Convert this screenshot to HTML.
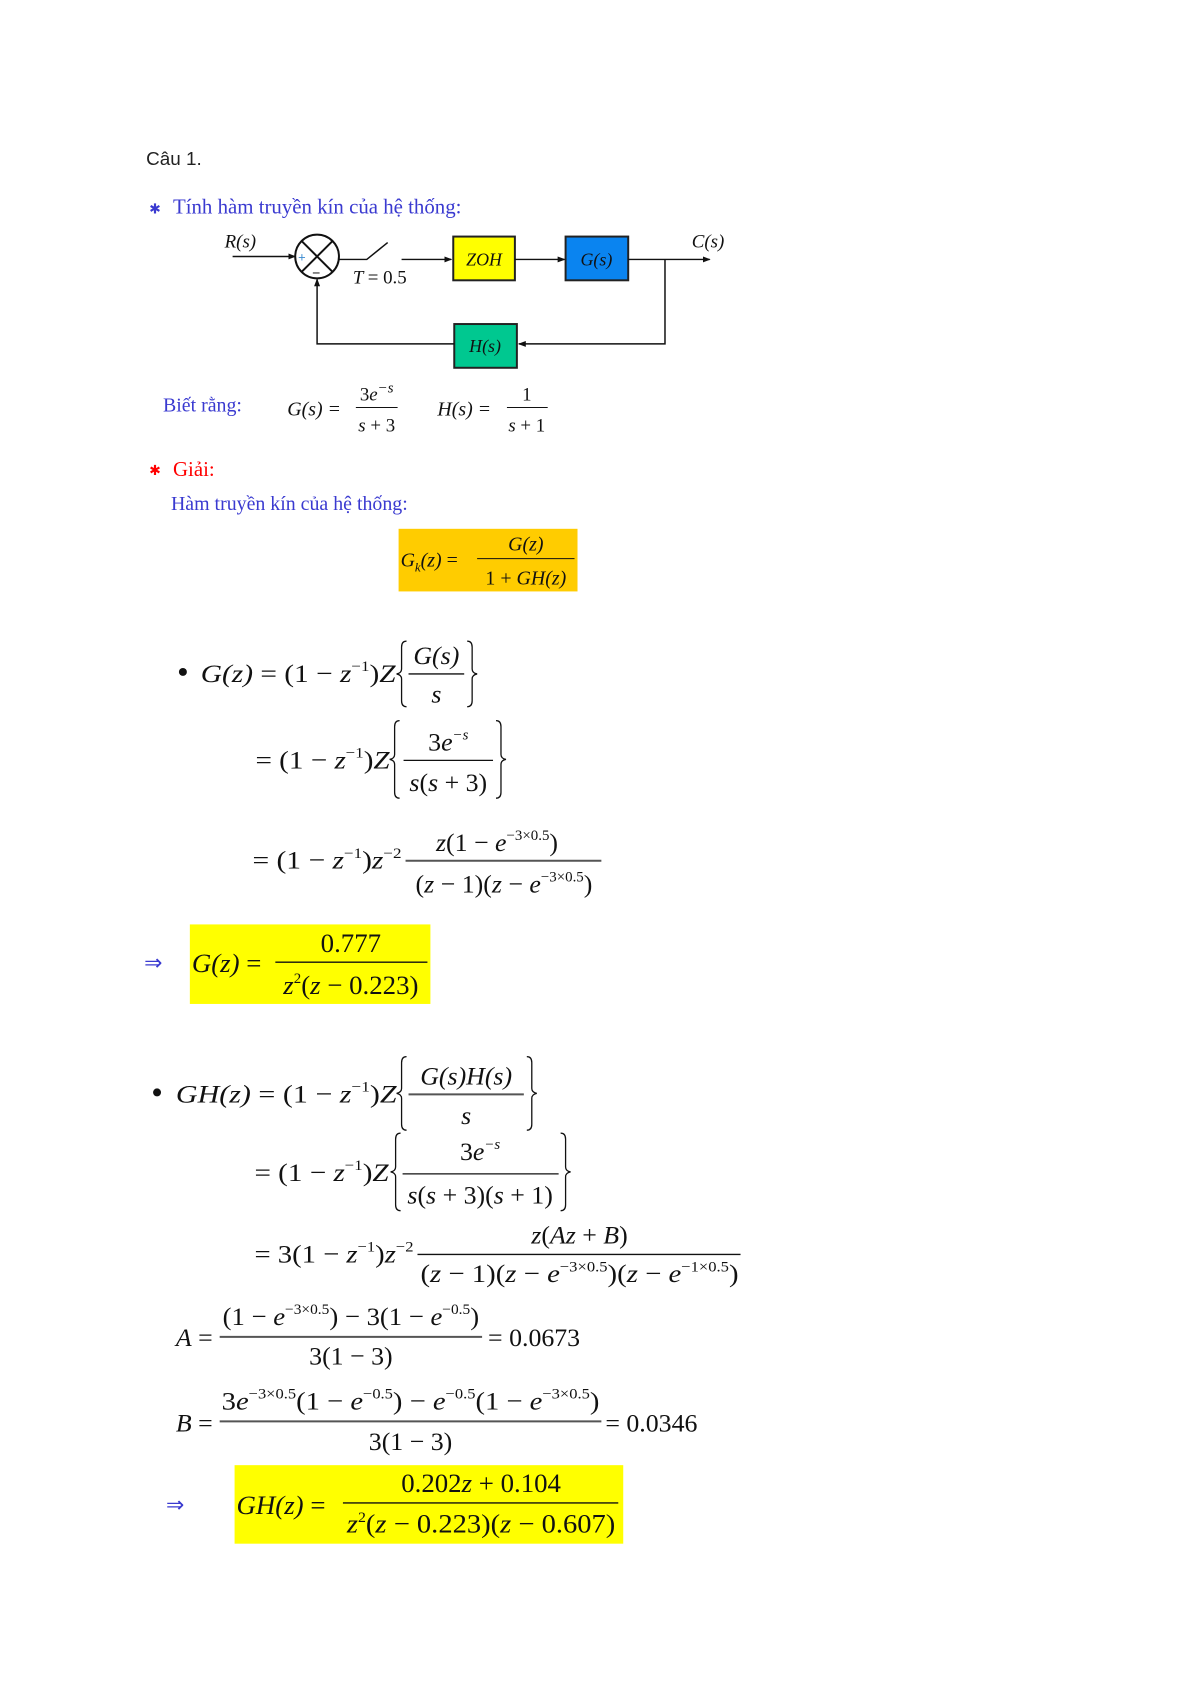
<!DOCTYPE html>
<html><head><meta charset="utf-8"><style>
html,body{margin:0;padding:0;background:#fff;}
svg{display:block;}
.m{font-family:"Liberation Serif",serif;font-style:italic;fill:#111;}
.r{font-family:"Liberation Serif",serif;fill:#111;}
.b{font-family:"Liberation Serif","Noto Serif CJK SC",serif;fill:#3a3ad0;}
.sup{font-size:15px;}
</style></head><body>
<svg width="1200" height="1698" viewBox="0 0 1200 1698" xmlns="http://www.w3.org/2000/svg">
<defs>
<marker id="ar" markerWidth="8" markerHeight="8" refX="7" refY="4" orient="auto" markerUnits="userSpaceOnUse"><path d="M0,1 L8,4 L0,7 z" fill="#111"/></marker>
</defs>
<g transform="scale(0.994)">
<text x="147" y="166" font-family="Liberation Sans,sans-serif" font-size="19" fill="#222">Câu 1.</text>
<text x="150" y="215" font-size="14" fill="#3a3ad0" font-family="DejaVu Sans,sans-serif">✱</text>
<text x="174" y="215" class="b" font-size="21">Tính hàm truyền kín của hệ thống:</text>

<text x="226" y="249" class="m" font-size="19">R(s)</text>
<line x1="234" y1="258" x2="297" y2="258" stroke="#111" stroke-width="1.5" marker-end="url(#ar)"/>
<circle cx="319" cy="258" r="22" fill="none" stroke="#111" stroke-width="2"/>
<line x1="303" y1="242" x2="335" y2="274" stroke="#111" stroke-width="2"/>
<line x1="335" y1="242" x2="303" y2="274" stroke="#111" stroke-width="2"/>
<text x="300" y="263" font-size="13" fill="#3a8ad0" font-family="Liberation Sans,sans-serif">+</text>
<text x="314" y="279" font-size="14" fill="#111" font-family="Liberation Sans,sans-serif">−</text>
<polyline points="341,261 369,261 390,244" fill="none" stroke="#111" stroke-width="1.5"/>
<line x1="404" y1="261" x2="454" y2="261" stroke="#111" stroke-width="1.5" marker-end="url(#ar)"/>
<text x="355" y="285" class="m" font-size="19">T <tspan font-style="normal">= 0.5</tspan></text>
<rect x="456" y="238" width="62" height="44" fill="#ffff00" stroke="#222" stroke-width="2"/>
<text x="487" y="267" class="m" font-size="18" text-anchor="middle">ZOH</text>
<line x1="518" y1="261" x2="568" y2="261" stroke="#111" stroke-width="1.5" marker-end="url(#ar)"/>
<rect x="569" y="238" width="63" height="44" fill="#0a84f0" stroke="#222" stroke-width="2"/>
<text x="600" y="267" class="m" font-size="18" text-anchor="middle">G(s)</text>
<line x1="632" y1="261" x2="714" y2="261" stroke="#111" stroke-width="1.5" marker-end="url(#ar)"/>
<text x="696" y="249" class="m" font-size="19">C(s)</text>
<polyline points="669,261 669,346 522,346" fill="none" stroke="#111" stroke-width="1.5" marker-end="url(#ar)"/>
<rect x="457" y="326" width="63" height="44" fill="#00c890" stroke="#222" stroke-width="2"/>
<text x="488" y="354" class="m" font-size="18" text-anchor="middle">H(s)</text>
<polyline points="457,346 319,346 319,281" fill="none" stroke="#111" stroke-width="1.5" marker-end="url(#ar)"/>

<text x="164" y="414" class="b" font-size="20">Biết rằng:</text>
<text x="289" y="418" class="m" font-size="20">G(s) =</text>
<line x1="358" y1="410" x2="400" y2="410" stroke="#111" stroke-width="1"/>
<text x="379" y="403" class="r" font-size="19" text-anchor="middle">3<tspan font-style="italic">e</tspan><tspan class="sup" dy="-8" font-style="italic">−s</tspan></text>
<text x="379" y="434" class="m" font-size="19" text-anchor="middle">s <tspan font-style="normal">+ 3</tspan></text>
<text x="440" y="418" class="m" font-size="20">H(s) =</text>
<line x1="510" y1="410" x2="551" y2="410" stroke="#111" stroke-width="1"/>
<text x="530" y="403" class="r" font-size="19" text-anchor="middle">1</text>
<text x="530" y="434" class="m" font-size="19" text-anchor="middle">s <tspan font-style="normal">+ 1</tspan></text>

<text x="150" y="478" font-size="14" fill="#ff0000" font-family="DejaVu Sans,sans-serif">✱</text>
<text x="174" y="479" font-family="Liberation Serif,serif" font-size="21" fill="#ff0000">Giải:</text>
<text x="172" y="513" class="b" font-size="20">Hàm truyền kín của hệ thống:</text>

<rect x="401" y="532" width="180" height="63" fill="#ffcc00"/>
<text x="403" y="570" class="m" font-size="20">G<tspan font-size="13" dy="5">k</tspan><tspan dy="-5">(z) </tspan><tspan font-style="normal">=</tspan></text>
<line x1="480" y1="562" x2="578" y2="562" stroke="#111" stroke-width="1"/>
<text x="529" y="554" class="m" font-size="20" text-anchor="middle">G(z)</text>
<text x="529" y="588" class="m" font-size="20" text-anchor="middle"><tspan font-style="normal">1 + </tspan>GH(z)</text>

<circle cx="184" cy="676" r="4" fill="#111"/>
<text x="202" y="686" class="m" font-size="26" textLength="196" lengthAdjust="spacingAndGlyphs">G(z)<tspan font-style="normal"> = (1 − </tspan>z<tspan class="sup" dy="-11" font-style="normal">−1</tspan><tspan dy="11" font-style="normal">)</tspan>Z</text>
<path d="M409,645 q-5,0 -5,6 v22 q0,4 -5,5 q5,1 5,5 v22 q0,6 5,6" fill="none" stroke="#111" stroke-width="1.3"/>
<line x1="411" y1="678" x2="467" y2="678" stroke="#111" stroke-width="1.3"/>
<text x="439" y="668" class="m" font-size="26" text-anchor="middle">G(s)</text>
<text x="439" y="707" class="m" font-size="26" text-anchor="middle">s</text>
<path d="M470,645 q5,0 5,6 v22 q0,4 5,5 q-5,1 -5,5 v22 q0,6 -5,6" fill="none" stroke="#111" stroke-width="1.3"/>

<text x="257" y="773" class="r" font-size="26" textLength="135" lengthAdjust="spacingAndGlyphs">= (1 − <tspan font-style="italic">z</tspan><tspan class="sup" dy="-11">−1</tspan><tspan dy="11">)</tspan><tspan font-style="italic">Z</tspan></text>
<path d="M402,725 q-5,0 -5,6 v28 q0,4 -5,5 q5,1 5,5 v28 q0,6 5,6" fill="none" stroke="#111" stroke-width="1.3"/>
<line x1="406" y1="765" x2="496" y2="765" stroke="#111" stroke-width="1.3"/>
<text x="451" y="755" class="r" font-size="26" text-anchor="middle">3<tspan font-style="italic">e</tspan><tspan class="sup" dy="-11" font-style="italic">−s</tspan></text>
<text x="451" y="796" class="m" font-size="26" text-anchor="middle">s<tspan font-style="normal">(</tspan>s<tspan font-style="normal"> + 3)</tspan></text>
<path d="M499,725 q5,0 5,6 v28 q0,4 5,5 q-5,1 -5,5 v28 q0,6 -5,6" fill="none" stroke="#111" stroke-width="1.3"/>

<text x="254" y="874" class="r" font-size="26" textLength="150" lengthAdjust="spacingAndGlyphs">= (1 − <tspan font-style="italic">z</tspan><tspan class="sup" dy="-11">−1</tspan><tspan dy="11">)</tspan><tspan font-style="italic">z</tspan><tspan class="sup" dy="-11">−2</tspan></text>
<line x1="408" y1="866" x2="605" y2="866" stroke="#555" stroke-width="2"/>
<text x="500" y="856" class="r" font-size="26" text-anchor="middle"><tspan font-style="italic">z</tspan>(1 − <tspan font-style="italic">e</tspan><tspan class="sup" dy="-11">−3×0.5</tspan><tspan dy="11">)</tspan></text>
<text x="507" y="898" class="r" font-size="26" text-anchor="middle">(<tspan font-style="italic">z</tspan> − 1)(<tspan font-style="italic">z</tspan> − <tspan font-style="italic">e</tspan><tspan class="sup" dy="-11">−3×0.5</tspan><tspan dy="11">)</tspan></text>

<text x="145" y="976" font-family="DejaVu Sans,sans-serif" font-size="22" fill="#3a3ad0">⇒</text>
<rect x="191" y="930" width="242" height="80" fill="#ffff00"/>
<text x="193" y="978" class="m" font-size="27">G(z)<tspan font-style="normal"> =</tspan></text>
<line x1="277" y1="968" x2="430" y2="968" stroke="#111" stroke-width="1.3"/>
<text x="353" y="958" class="r" font-size="27" text-anchor="middle">0.777</text>
<text x="353" y="1000" class="r" font-size="27" text-anchor="middle"><tspan font-style="italic">z</tspan><tspan class="sup" dy="-11">2</tspan><tspan dy="11">(</tspan><tspan font-style="italic">z</tspan> − 0.223)</text>

<circle cx="158" cy="1099" r="4" fill="#111"/>
<text x="177" y="1109" class="m" font-size="26" textLength="222" lengthAdjust="spacingAndGlyphs">GH(z)<tspan font-style="normal"> = (1 − </tspan>z<tspan class="sup" dy="-11" font-style="normal">−1</tspan><tspan dy="11" font-style="normal">)</tspan>Z</text>
<path d="M409,1063 q-5,0 -5,6 v26 q0,4 -5,5 q5,1 5,5 v26 q0,6 5,6" fill="none" stroke="#111" stroke-width="1.3"/>
<line x1="411" y1="1101" x2="527" y2="1101" stroke="#555" stroke-width="2"/>
<text x="469" y="1091" class="m" font-size="26" text-anchor="middle">G(s)H(s)</text>
<text x="469" y="1131" class="m" font-size="26" text-anchor="middle">s</text>
<path d="M530,1063 q5,0 5,6 v26 q0,4 5,5 q-5,1 -5,5 v26 q0,6 -5,6" fill="none" stroke="#111" stroke-width="1.3"/>

<text x="256" y="1188" class="r" font-size="26" textLength="135" lengthAdjust="spacingAndGlyphs">= (1 − <tspan font-style="italic">z</tspan><tspan class="sup" dy="-11">−1</tspan><tspan dy="11">)</tspan><tspan font-style="italic">Z</tspan></text>
<path d="M403,1140 q-5,0 -5,6 v28 q0,4 -5,5 q5,1 5,5 v28 q0,6 5,6" fill="none" stroke="#111" stroke-width="1.3"/>
<line x1="405" y1="1181" x2="562" y2="1181" stroke="#111" stroke-width="1.3"/>
<text x="483" y="1167" class="r" font-size="26" text-anchor="middle">3<tspan font-style="italic">e</tspan><tspan class="sup" dy="-11" font-style="italic">−s</tspan></text>
<text x="483" y="1211" class="m" font-size="26" text-anchor="middle">s<tspan font-style="normal">(</tspan>s<tspan font-style="normal"> + 3)(</tspan>s<tspan font-style="normal"> + 1)</tspan></text>
<path d="M564,1140 q5,0 5,6 v28 q0,4 5,5 q-5,1 -5,5 v28 q0,6 -5,6" fill="none" stroke="#111" stroke-width="1.3"/>

<text x="256" y="1270" class="r" font-size="26" textLength="160" lengthAdjust="spacingAndGlyphs">= 3(1 − <tspan font-style="italic">z</tspan><tspan class="sup" dy="-11">−1</tspan><tspan dy="11">)</tspan><tspan font-style="italic">z</tspan><tspan class="sup" dy="-11">−2</tspan></text>
<line x1="420" y1="1262" x2="745" y2="1262" stroke="#111" stroke-width="1.3"/>
<text x="583" y="1251" class="m" font-size="26" text-anchor="middle">z<tspan font-style="normal">(</tspan>Az<tspan font-style="normal"> + </tspan>B<tspan font-style="normal">)</tspan></text>
<text x="583" y="1290" class="r" font-size="26" text-anchor="middle" textLength="320" lengthAdjust="spacingAndGlyphs">(<tspan font-style="italic">z</tspan> − 1)(<tspan font-style="italic">z</tspan> − <tspan font-style="italic">e</tspan><tspan class="sup" dy="-11">−3×0.5</tspan><tspan dy="11">)(</tspan><tspan font-style="italic">z</tspan> − <tspan font-style="italic">e</tspan><tspan class="sup" dy="-11">−1×0.5</tspan><tspan dy="11">)</tspan></text>

<text x="177" y="1354" class="m" font-size="26">A<tspan font-style="normal"> =</tspan></text>
<line x1="221" y1="1345" x2="485" y2="1345" stroke="#555" stroke-width="2"/>
<text x="353" y="1333" class="r" font-size="26" text-anchor="middle" textLength="258" lengthAdjust="spacingAndGlyphs">(1 − <tspan font-style="italic">e</tspan><tspan class="sup" dy="-11">−3×0.5</tspan><tspan dy="11">) − 3(1 − </tspan><tspan font-style="italic">e</tspan><tspan class="sup" dy="-11">−0.5</tspan><tspan dy="11">)</tspan></text>
<text x="353" y="1373" class="r" font-size="26" text-anchor="middle">3(1 − 3)</text>
<text x="491" y="1354" class="r" font-size="26">= 0.0673</text>

<text x="177" y="1440" class="m" font-size="26">B<tspan font-style="normal"> =</tspan></text>
<line x1="221" y1="1430" x2="605" y2="1430" stroke="#555" stroke-width="2"/>
<text x="413" y="1418" class="r" font-size="26" text-anchor="middle" textLength="380" lengthAdjust="spacingAndGlyphs">3<tspan font-style="italic">e</tspan><tspan class="sup" dy="-11">−3×0.5</tspan><tspan dy="11">(1 − </tspan><tspan font-style="italic">e</tspan><tspan class="sup" dy="-11">−0.5</tspan><tspan dy="11">) − </tspan><tspan font-style="italic">e</tspan><tspan class="sup" dy="-11">−0.5</tspan><tspan dy="11">(1 − </tspan><tspan font-style="italic">e</tspan><tspan class="sup" dy="-11">−3×0.5</tspan><tspan dy="11">)</tspan></text>
<text x="413" y="1459" class="r" font-size="26" text-anchor="middle">3(1 − 3)</text>
<text x="609" y="1440" class="r" font-size="26">= 0.0346</text>

<text x="167" y="1521" font-family="DejaVu Sans,sans-serif" font-size="22" fill="#3a3ad0">⇒</text>
<rect x="236" y="1474" width="391" height="79" fill="#ffff00"/>
<text x="238" y="1523" class="m" font-size="27">GH(z)<tspan font-style="normal"> =</tspan></text>
<line x1="345" y1="1512" x2="622" y2="1512" stroke="#111" stroke-width="1.3"/>
<text x="484" y="1501" class="r" font-size="27" text-anchor="middle">0.202<tspan font-style="italic">z</tspan> + 0.104</text>
<text x="484" y="1542" class="r" font-size="27" text-anchor="middle" textLength="270" lengthAdjust="spacingAndGlyphs"><tspan font-style="italic">z</tspan><tspan class="sup" dy="-11">2</tspan><tspan dy="11">(</tspan><tspan font-style="italic">z</tspan> − 0.223)(<tspan font-style="italic">z</tspan> − 0.607)</text>
</g>
</svg>
</body></html>
